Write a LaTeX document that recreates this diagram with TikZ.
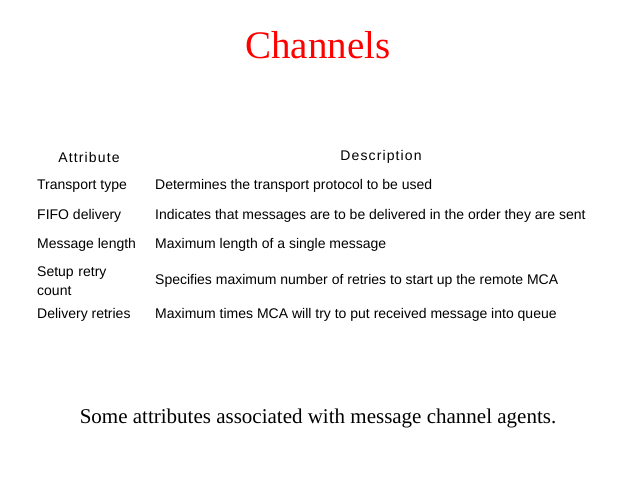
\documentclass[tikz,border=0pt]{standalone}
\usepackage{fontspec}
\setmainfont{Liberation Serif}
\setsansfont{Liberation Sans}
\newfontfamily\headfont[LetterSpace=8]{Liberation Sans}
\begin{document}
\begin{tikzpicture}[x=1pt,y=-1pt,
  cell/.style={anchor=west,inner sep=0pt,font=\sffamily\fontsize{14}{18}\selectfont,align=left},
  head/.style={inner sep=0pt,font=\headfont\fontsize{14}{18}\selectfont}]
\useasboundingbox (0,0) rectangle (638,478);
\node[inner sep=0pt,text=red,font=\fontsize{39}{44}\selectfont] (t) at (318,45) {Channels};
\node[head] (h1) at (89,157) {Attribute};
\node[head] (h2) at (381,157) {Description};
\node[cell] (a1) at (37,186) {Transport type};
\node[cell] (d1) at (155,186) {Determines the transport protocol to be used};
\node[cell] (a2) at (37,216) {FIFO delivery};
\node[cell] (d2) at (155,216) {Indicates that messages are to be delivered in the order they are sent};
\node[cell] (a3) at (37,245) {Message length};
\node[cell] (d3) at (155,245) {Maximum length of a single message};
\node[cell,text width=100pt] (a4) at (37,281) {Setup retry\\[1pt]count};
\node[cell] (d4) at (155,281) {Specifies maximum number of retries to start up the remote MCA};
\node[cell] (a5) at (37,315) {Delivery retries};
\node[cell] (d5) at (155,315) {Maximum times MCA will try to put received message into queue};
\node[inner sep=0pt,font=\fontsize{21}{24}\selectfont] (c) at (318,418) {Some attributes associated with message channel agents.};
\end{tikzpicture}
\end{document}
